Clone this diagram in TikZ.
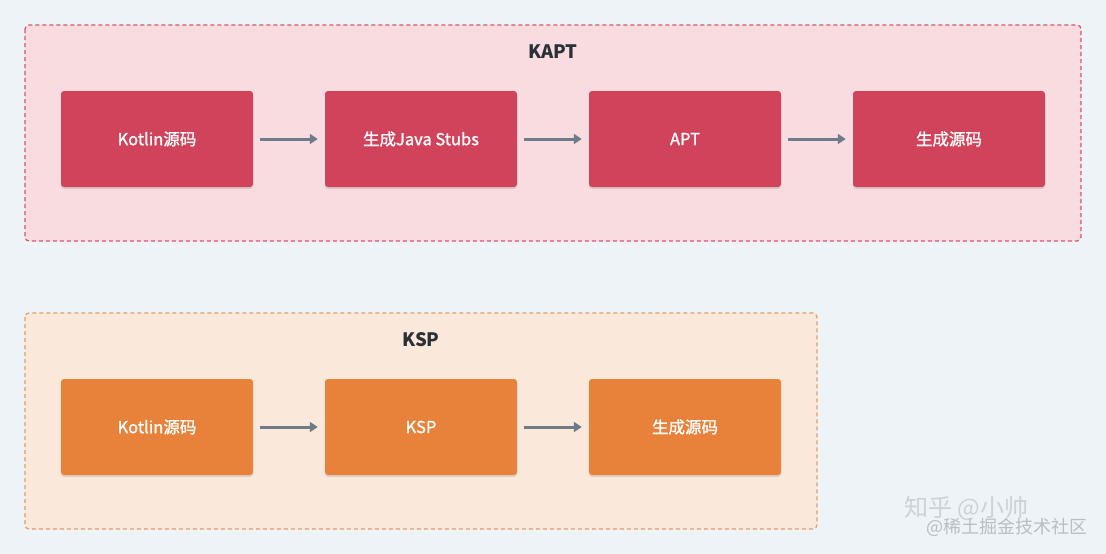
\documentclass[tikz,border=0pt]{standalone}
\usepackage{fontspec}
\setmainfont{Noto Sans CJK SC}
\newfontfamily\lblfont[FakeBold=1.2]{Noto Sans CJK SC}
\usetikzlibrary{arrows.meta,shadows}
\definecolor{bgc}{HTML}{EEF3F7}
\definecolor{kaptfill}{HTML}{F8DCE0}
\definecolor{kaptline}{HTML}{D9546A}
\definecolor{kaptbox}{HTML}{D1435B}
\definecolor{kspfill}{HTML}{FAE8DB}
\definecolor{kspline}{HTML}{E59A66}
\definecolor{kspbox}{HTML}{E8823A}
\definecolor{arrc}{HTML}{6F7B87}
\definecolor{titlec}{HTML}{2B2F36}
\definecolor{wm}{HTML}{B8BEC4}
\definecolor{wmbig}{HTML}{CDD2D7}
\tikzset{
  group/.style={draw, dashed, dash pattern=on 4pt off 3pt, line width=1.2pt, rounded corners=4pt},
  stepbox/.style={minimum width=192pt, minimum height=96pt, rounded corners=3pt, text=white, font=\lblfont\fontsize{16.5}{20}\selectfont, inner sep=0pt,
     drop shadow={shadow xshift=0pt, shadow yshift=-2pt, opacity=0.10, fill=black}},
  flow/.style={draw=arrc, line width=3pt, -{Triangle[length=8pt,width=10pt]}, shorten <=7pt, shorten >=7pt},
  title/.style={font=\fontsize{18.5}{22}\selectfont\bfseries, text=titlec}
}
\begin{document}
\begin{tikzpicture}[x=1pt,y=-1pt]
\fill[bgc] (0,0) rectangle (1106,554);
\useasboundingbox (0,0) rectangle (1106,554);
% groups
\draw[group, draw=kaptline, fill=kaptfill] (25,25) rectangle (1081,241);
\draw[group, draw=kspline, fill=kspfill] (25,313) rectangle (817,529);
\node[title] (t1) at (553,52) {KAPT};
\node[title] (t2) at (421,340) {KSP};
% KAPT row
\node[stepbox, fill=kaptbox] (a1) at (157,139) {Kotlin源码};
\node[stepbox, fill=kaptbox] (a2) at (421,139) {生成Java Stubs};
\node[stepbox, fill=kaptbox] (a3) at (685,139) {APT};
\node[stepbox, fill=kaptbox] (a4) at (949,139) {生成源码};
\draw[flow] (a1) -- (a2);
\draw[flow] (a2) -- (a3);
\draw[flow] (a3) -- (a4);
% KSP row
\node[stepbox, fill=kspbox] (b1) at (157,427) {Kotlin源码};
\node[stepbox, fill=kspbox] (b2) at (421,427) {KSP};
\node[stepbox, fill=kspbox] (b3) at (685,427) {生成源码};
\draw[flow] (b1) -- (b2);
\draw[flow] (b2) -- (b3);
% watermark
\node[text=wmbig, font=\fontsize{24}{28}\selectfont, anchor=west, inner sep=0pt] (w1) at (904,508) {知乎 @小帅};
\node[text=wm, font=\fontsize{18}{20}\selectfont, anchor=west, inner sep=0pt] (w2) at (926,527) {@稀土掘金技术社区};
\end{tikzpicture}
\end{document}
